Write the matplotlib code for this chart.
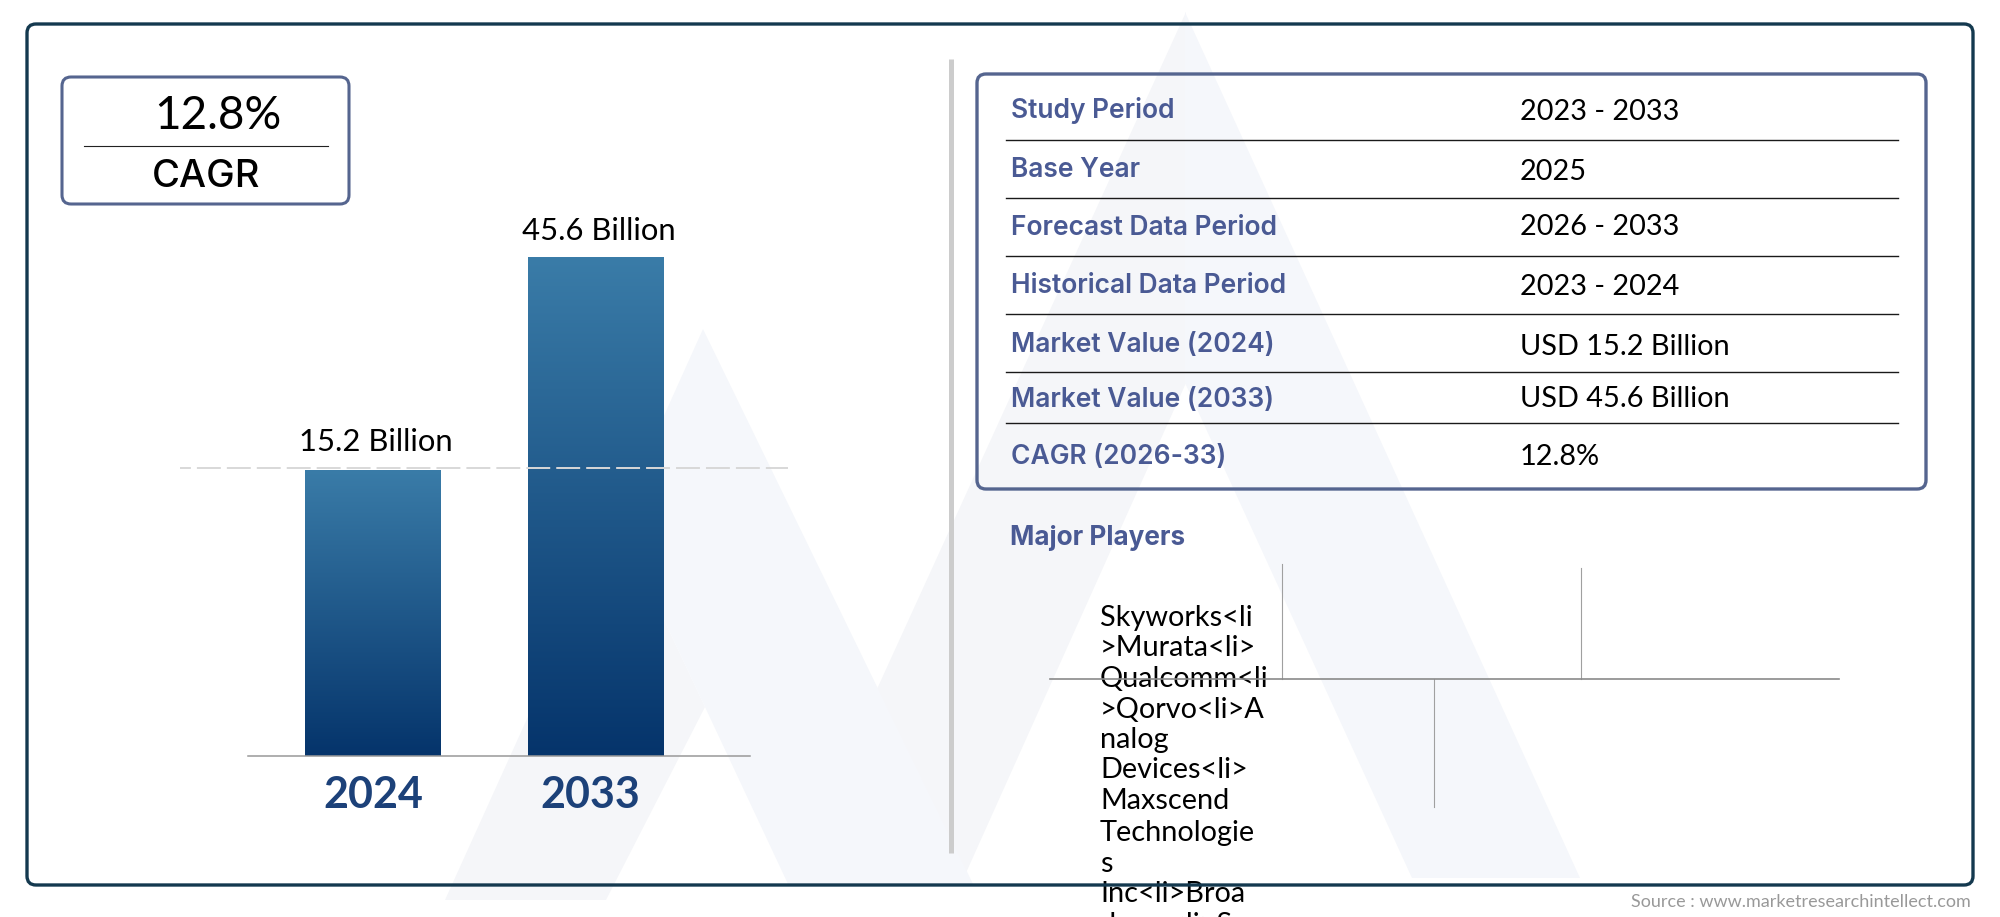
import matplotlib
matplotlib.use("Agg")
import matplotlib.pyplot as plt
import numpy as np
from matplotlib.colors import LinearSegmentedColormap
from matplotlib.patches import FancyBboxPatch, Polygon

# values
years = ["2024", "2033"]
bar_labels = ["15.2 Billion", "45.6 Billion"]
bar_heights = [57.4, 100]  # drawn height, the source bars are not to scale
cagr = "12.8%"

table_labels = ["Study Period", "Base Year", "Forecast Data Period", "Historical Data Period",
                "Market Value (2024)", "Market Value (2033)", "CAGR (2026-33)"]
table_values = ["2023 - 2033", "2025", "2026 - 2033", "2023 - 2024",
                "USD 15.2 Billion", "USD 45.6 Billion", "12.8%"]
label_rows = [110, 170, 228, 286, 345, 400, 457]
value_rows = [112, 172, 227, 287, 347, 399, 457]
table_rules = [140, 198, 256, 314, 372, 423]

players = ["Skyworks<li", ">Murata<li>", "Qualcomm<li", ">Qorvo<li>A", "nalog", "Devices<li>",
           "Maxscend", "Technologie", "s", "Inc<li>Broa", "dcom<li>S"]
player_rows = [618, 648, 679, 710, 740, 770, 801, 833, 864, 894, 925]

NAVY = "#14394f"
SLATE = "#55658f"
LABEL = "#4a5a94"
TEXT_FONT = "Lato"

fig = plt.figure(figsize=(20, 9.17), dpi=100)
bg = fig.add_axes([0, 0, 1, 1])
bg.set_xlim(0, 2000)
bg.set_ylim(917, 0)
bg.axis("off")

# watermark, bluish legs and slightly greyer legs
blue = "#f5f7fb"
grey = "#f5f6f9"
bg.add_patch(Polygon([(1186, 12), (788, 884), (961, 884), (1186, 383)], fc=grey, ec="none", zorder=0))
bg.add_patch(Polygon([(1185, 12), (1185, 383), (1412, 878), (1580, 878)], fc=blue, ec="none", zorder=0))
bg.add_patch(Polygon([(617, 520), (445, 900), (606, 900), (705, 707)], fc=grey, ec="none", zorder=0))
bg.add_patch(Polygon([(703, 329), (617, 520), (705, 707), (788, 884), (973, 884)], fc=blue, ec="none", zorder=0))

# outer frame
bg.add_patch(FancyBboxPatch((27, 24), 1946, 861, boxstyle="round,pad=0,rounding_size=9",
                            fc="none", ec=NAVY, lw=2.4, zorder=5))

# cagr box
bg.add_patch(FancyBboxPatch((62, 77), 287, 127, boxstyle="round,pad=0,rounding_size=9",
                            fc="white", ec=SLATE, lw=2.2))
bg.plot([84, 328], [146, 146], color="#222222", lw=0.8)
bg.text(218, 116, cagr, ha="center", va="center", fontsize=33, family=TEXT_FONT, color="black")
bg.text(206, 177, "CAGR", ha="center", va="center", fontsize=27.5, family="Inter", weight="medium", color="black")

# divider
bg.plot([950.5, 950.5], [59, 853], color="#cccccc", lw=3.6, solid_capstyle="butt")

# table
bg.add_patch(FancyBboxPatch((977, 74), 949, 415, boxstyle="round,pad=0,rounding_size=9",
                            fc="none", ec=SLATE, lw=2.4))
for y in table_rules:
    bg.plot([1006, 1898], [y, y], color="#1a1a1a", lw=1)
for name, y in zip(table_labels, label_rows):
    bg.text(1011, y, name, ha="left", va="center", fontsize=19, family="Inter", weight="semibold", color=LABEL)
for val, y in zip(table_values, value_rows):
    bg.text(1520, y, val, ha="left", va="center", fontsize=20.8, family=TEXT_FONT, color="black")

# major players
bg.text(1010, 538, "Major Players", ha="left", va="center", fontsize=18.8, family="Inter", weight="bold", color=LABEL)
bg.plot([1050, 1839], [679, 679], color="#8a8a8a", lw=1.2, zorder=5)
bg.plot([1282, 1282], [564, 679], color="#a0a0a0", lw=0.8)
bg.plot([1581, 1581], [568, 679], color="#a0a0a0", lw=0.8)
bg.plot([1434, 1434], [679, 807], color="#a0a0a0", lw=0.8)
for line, y in zip(players, player_rows):
    bg.text(1100, y, line, ha="left", va="center", fontsize=20.8, family=TEXT_FONT, color="black", zorder=4)

bg.text(1971, 902, "Source : www.marketresearchintellect.com", ha="right", va="center", fontsize=13,
        family="Lato", color="#999999")

# bars, with own axes so the bar width and height come from the scale
ax = fig.add_axes([248 / 2000, 1 - 756 / 917, (750 - 248) / 2000, 499 / 917])
ax.patch.set_alpha(0)
for s in ax.spines.values():
    s.set_visible(False)
ax.spines["bottom"].set_visible(True)
ax.spines["bottom"].set_color("#999999")
ax.spines["bottom"].set_linewidth(1.1)
ax.tick_params(left=False, bottom=False, labelleft=False, labelbottom=False)

# positions on 502 px wide axes
xpos = [(373 - 248) / 251 - 0.5, (596 - 248) / 251 - 0.5]
width = 136 / 251
year_shift = [0.0, -0.024]
label_lift = [5.6, 5.2]
bars = ax.bar(xpos, bar_heights, width=width, color="none")
cmap = LinearSegmentedColormap.from_list("bar", ["#05346b", "#3a7ca8"])
for rect, lab, yr, dx, lift in zip(bars, bar_labels, years, year_shift, label_lift):
    x0, w, h = rect.get_x(), rect.get_width(), rect.get_height()
    im = ax.imshow(np.linspace(1, 0, 256).reshape(-1, 1), cmap=cmap, aspect="auto", vmin=0, vmax=1,
                   extent=[x0, x0 + w, 0, h], zorder=2)
    im.set_clip_path(rect)
    ax.text(x0 + w / 2 + 0.012, h + lift, lab, ha="center", va="center", fontsize=22.3, family=TEXT_FONT,
            color="black", clip_on=False)
    ax.text(x0 + w / 2 + dx, -7.9, yr, ha="center", va="center", fontsize=31, family="Lato", weight="bold",
            color="#1c4179", clip_on=False)
ax.set_xlim(-0.5, 1.5)
ax.set_ylim(0, 100)

# dashed level line at the height of the first bar
ax.plot([(180 - 248) / 251 - 0.5, (788 - 248) / 251 - 0.5], [bar_heights[0] + 0.3, bar_heights[0] + 0.3],
        color="#d8d8d8", lw=1.4, ls=(6.7, (12.3, 3.1)), clip_on=False, zorder=3)

fig.savefig("out.png", dpi=100)
